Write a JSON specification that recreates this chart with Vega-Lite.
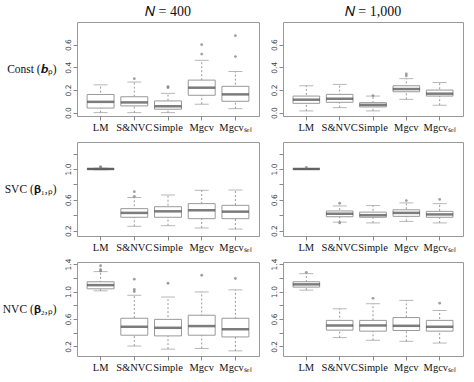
{
  "$schema": "https://vega.github.io/schema/vega-lite/v6.json",
  "background": "white",
  "padding": {"left": 1, "top": 4, "right": 5, "bottom": 5},
  "datasets": {
    "boxes": [
      {"param": "Const", "N": 400, "method": "LM", "lower": 0.0, "q1": 0.04, "median": 0.095, "q3": 0.16, "upper": 0.245},
      {"param": "Const", "N": 400, "method": "S&NVC", "lower": 0.0, "q1": 0.059, "median": 0.09, "q3": 0.14, "upper": 0.27},
      {"param": "Const", "N": 400, "method": "Simple", "lower": 0.0, "q1": 0.03, "median": 0.056, "q3": 0.103, "upper": 0.17},
      {"param": "Const", "N": 400, "method": "Mgcv", "lower": 0.074, "q1": 0.153, "median": 0.22, "q3": 0.287, "upper": 0.462},
      {"param": "Const", "N": 400, "method": "Mgcvₛₑₗ", "lower": 0.035, "q1": 0.1, "median": 0.161, "q3": 0.232, "upper": 0.363},
      {"param": "Const", "N": 1000, "method": "LM", "lower": 0.015, "q1": 0.082, "median": 0.114, "q3": 0.146, "upper": 0.237},
      {"param": "Const", "N": 1000, "method": "S&NVC", "lower": 0.044, "q1": 0.091, "median": 0.123, "q3": 0.161, "upper": 0.249},
      {"param": "Const", "N": 1000, "method": "Simple", "lower": 0.015, "q1": 0.05, "median": 0.068, "q3": 0.088, "upper": 0.146},
      {"param": "Const", "N": 1000, "method": "Mgcv", "lower": 0.117, "q1": 0.184, "median": 0.208, "q3": 0.237, "upper": 0.3},
      {"param": "Const", "N": 1000, "method": "Mgcvₛₑₗ", "lower": 0.065, "q1": 0.146, "median": 0.167, "q3": 0.199, "upper": 0.266},
      {"param": "SVC", "N": 400, "method": "LM", "lower": 0.99, "q1": 0.995, "median": 1.0, "q3": 1.005, "upper": 1.01},
      {"param": "SVC", "N": 400, "method": "S&NVC", "lower": 0.256, "q1": 0.373, "median": 0.43, "q3": 0.485, "upper": 0.63},
      {"param": "SVC", "N": 400, "method": "Simple", "lower": 0.264, "q1": 0.373, "median": 0.45, "q3": 0.51, "upper": 0.662},
      {"param": "SVC", "N": 400, "method": "Mgcv", "lower": 0.234, "q1": 0.355, "median": 0.464, "q3": 0.55, "upper": 0.723},
      {"param": "SVC", "N": 400, "method": "Mgcvₛₑₗ", "lower": 0.22, "q1": 0.355, "median": 0.446, "q3": 0.528, "upper": 0.727},
      {"param": "SVC", "N": 1000, "method": "LM", "lower": 0.995, "q1": 0.998, "median": 1.0, "q3": 1.002, "upper": 1.005},
      {"param": "SVC", "N": 1000, "method": "S&NVC", "lower": 0.31, "q1": 0.38, "median": 0.42, "q3": 0.455, "upper": 0.52},
      {"param": "SVC", "N": 1000, "method": "Simple", "lower": 0.3, "q1": 0.373, "median": 0.4, "q3": 0.44, "upper": 0.525},
      {"param": "SVC", "N": 1000, "method": "Mgcv", "lower": 0.32, "q1": 0.385, "median": 0.43, "q3": 0.47, "upper": 0.56},
      {"param": "SVC", "N": 1000, "method": "Mgcvₛₑₗ", "lower": 0.3, "q1": 0.373, "median": 0.41, "q3": 0.45, "upper": 0.55},
      {"param": "NVC", "N": 400, "method": "LM", "lower": 1.01, "q1": 1.039, "median": 1.093, "q3": 1.142, "upper": 1.29},
      {"param": "NVC", "N": 400, "method": "S&NVC", "lower": 0.205, "q1": 0.363, "median": 0.486, "q3": 0.61, "upper": 0.945},
      {"param": "NVC", "N": 400, "method": "Simple", "lower": 0.16, "q1": 0.353, "median": 0.471, "q3": 0.594, "upper": 0.92},
      {"param": "NVC", "N": 400, "method": "Mgcv", "lower": 0.17, "q1": 0.363, "median": 0.496, "q3": 0.654, "upper": 0.994},
      {"param": "NVC", "N": 400, "method": "Mgcvₛₑₗ", "lower": 0.135, "q1": 0.338, "median": 0.45, "q3": 0.61, "upper": 1.024},
      {"param": "NVC", "N": 1000, "method": "LM", "lower": 1.02, "q1": 1.064, "median": 1.104, "q3": 1.142, "upper": 1.26},
      {"param": "NVC", "N": 1000, "method": "S&NVC", "lower": 0.328, "q1": 0.437, "median": 0.505, "q3": 0.579, "upper": 0.748},
      {"param": "NVC", "N": 1000, "method": "Simple", "lower": 0.289, "q1": 0.422, "median": 0.505, "q3": 0.579, "upper": 0.822},
      {"param": "NVC", "N": 1000, "method": "Mgcv", "lower": 0.274, "q1": 0.431, "median": 0.5, "q3": 0.62, "upper": 0.871},
      {"param": "NVC", "N": 1000, "method": "Mgcvₛₑₗ", "lower": 0.249, "q1": 0.422, "median": 0.486, "q3": 0.579, "upper": 0.723}
    ],
    "outs": [
      {"param": "Const", "N": 400, "method": "S&NVC", "value": 0.3},
      {"param": "Const", "N": 400, "method": "Simple", "value": 0.22},
      {"param": "Const", "N": 400, "method": "Simple", "value": 0.23},
      {"param": "Const", "N": 400, "method": "Mgcv", "value": 0.517},
      {"param": "Const", "N": 400, "method": "Mgcv", "value": 0.6},
      {"param": "Const", "N": 400, "method": "Mgcvₛₑₗ", "value": 0.495},
      {"param": "Const", "N": 400, "method": "Mgcvₛₑₗ", "value": 0.679},
      {"param": "Const", "N": 1000, "method": "Simple", "value": 0.15},
      {"param": "Const", "N": 1000, "method": "Mgcv", "value": 0.325},
      {"param": "Const", "N": 1000, "method": "Mgcv", "value": 0.342},
      {"param": "SVC", "N": 400, "method": "LM", "value": 1.02},
      {"param": "SVC", "N": 400, "method": "LM", "value": 1.03},
      {"param": "SVC", "N": 400, "method": "S&NVC", "value": 0.645},
      {"param": "SVC", "N": 400, "method": "S&NVC", "value": 0.705},
      {"param": "SVC", "N": 1000, "method": "LM", "value": 1.02},
      {"param": "SVC", "N": 1000, "method": "S&NVC", "value": 0.555},
      {"param": "SVC", "N": 1000, "method": "S&NVC", "value": 0.3},
      {"param": "SVC", "N": 1000, "method": "Mgcv", "value": 0.59},
      {"param": "SVC", "N": 1000, "method": "Mgcvₛₑₗ", "value": 0.605},
      {"param": "NVC", "N": 400, "method": "LM", "value": 1.3},
      {"param": "NVC", "N": 400, "method": "LM", "value": 1.32},
      {"param": "NVC", "N": 400, "method": "LM", "value": 1.375},
      {"param": "NVC", "N": 400, "method": "S&NVC", "value": 1.0},
      {"param": "NVC", "N": 400, "method": "S&NVC", "value": 1.03},
      {"param": "NVC", "N": 400, "method": "S&NVC", "value": 1.18},
      {"param": "NVC", "N": 400, "method": "Simple", "value": 1.12},
      {"param": "NVC", "N": 400, "method": "Mgcv", "value": 1.237},
      {"param": "NVC", "N": 400, "method": "Mgcvₛₑₗ", "value": 1.19},
      {"param": "NVC", "N": 1000, "method": "LM", "value": 1.28},
      {"param": "NVC", "N": 1000, "method": "Simple", "value": 0.9},
      {"param": "NVC", "N": 1000, "method": "Mgcvₛₑₗ", "value": 0.83}
    ]
  },
  "columns": 2,
  "spacing": {"row": 26, "column": 24},
  "bounds": "flush",
  "resolve": {"scale": {"x": "independent", "y": "independent"}},
  "concat": [
    {
      "width": 182, "height": 94,
      "title": "𝑁 = 400",
      "layer": [
        {"data": {"name": "boxes"}, "transform": [{"filter": "datum.param=='Const' && datum.N==400"}],
         "mark": {"type": "rule", "strokeDash": [2, 2], "color": "#999"},
         "encoding": {"x": {"field": "method", "type": "nominal", "sort": ["LM", "S&NVC", "Simple", "Mgcv", "Mgcvₛₑₗ"], "scale": {"paddingInner": 0, "paddingOuter": 0.2}},
           "y": {"field": "lower", "type": "quantitative", "scale": {"domain": [-0.03, 0.8], "nice": false, "zero": false}, "axis": {"values": [0, 0.2, 0.4, 0.6], "format": ".1f", "labelOverlap": false, "title": "Const (𝒃ₚ)"}},
           "y2": {"field": "upper"}}},
        {"data": {"name": "boxes"}, "transform": [{"filter": "datum.param=='Const' && datum.N==400"}, {"fold": ["lower", "upper"]}],
         "mark": {"type": "tick", "size": 14, "thickness": 1, "color": "#999"},
         "encoding": {"x": {"field": "method", "type": "nominal", "sort": ["LM", "S&NVC", "Simple", "Mgcv", "Mgcvₛₑₗ"]}, "y": {"field": "value", "type": "quantitative", "axis": {"values": [0, 0.2, 0.4, 0.6], "format": ".1f", "labelOverlap": false, "title": "Const (𝒃ₚ)"}}}},
        {"data": {"name": "boxes"}, "transform": [{"filter": "datum.param=='Const' && datum.N==400"}],
         "mark": {"type": "bar", "fill": "white", "stroke": "#999", "strokeWidth": 1, "width": {"band": 0.8}},
         "encoding": {"x": {"field": "method", "type": "nominal", "sort": ["LM", "S&NVC", "Simple", "Mgcv", "Mgcvₛₑₗ"]}, "y": {"field": "q1", "type": "quantitative", "axis": {"values": [0, 0.2, 0.4, 0.6], "format": ".1f", "labelOverlap": false, "title": "Const (𝒃ₚ)"}}, "y2": {"field": "q3"}}},
        {"data": {"name": "boxes"}, "transform": [{"filter": "datum.param=='Const' && datum.N==400"}],
         "mark": {"type": "tick", "size": 27, "thickness": 2.5, "color": "#444"},
         "encoding": {"x": {"field": "method", "type": "nominal", "sort": ["LM", "S&NVC", "Simple", "Mgcv", "Mgcvₛₑₗ"]}, "y": {"field": "median", "type": "quantitative", "axis": {"values": [0, 0.2, 0.4, 0.6], "format": ".1f", "labelOverlap": false, "title": "Const (𝒃ₚ)"}}}},
        {"data": {"name": "outs"}, "transform": [{"filter": "datum.param=='Const' && datum.N==400"}],
         "mark": {"type": "point", "filled": true, "size": 8, "color": "#777"},
         "encoding": {"x": {"field": "method", "type": "nominal", "sort": ["LM", "S&NVC", "Simple", "Mgcv", "Mgcvₛₑₗ"]}, "y": {"field": "value", "type": "quantitative", "axis": {"values": [0, 0.2, 0.4, 0.6], "format": ".1f", "labelOverlap": false, "title": "Const (𝒃ₚ)"}}}}
      ]
    },
    {
      "width": 180, "height": 94,
      "title": "𝑁 = 1,000",
      "layer": [
        {"data": {"name": "boxes"}, "transform": [{"filter": "datum.param=='Const' && datum.N==1000"}],
         "mark": {"type": "rule", "strokeDash": [2, 2], "color": "#999"},
         "encoding": {"x": {"field": "method", "type": "nominal", "sort": ["LM", "S&NVC", "Simple", "Mgcv", "Mgcvₛₑₗ"], "scale": {"paddingInner": 0, "paddingOuter": 0.2}},
           "y": {"field": "lower", "type": "quantitative", "scale": {"domain": [-0.03, 0.8], "nice": false, "zero": false}, "axis": {"values": [0, 0.2, 0.4, 0.6], "format": ".1f", "labelOverlap": false, "title": null}},
           "y2": {"field": "upper"}}},
        {"data": {"name": "boxes"}, "transform": [{"filter": "datum.param=='Const' && datum.N==1000"}, {"fold": ["lower", "upper"]}],
         "mark": {"type": "tick", "size": 14, "thickness": 1, "color": "#999"},
         "encoding": {"x": {"field": "method", "type": "nominal", "sort": ["LM", "S&NVC", "Simple", "Mgcv", "Mgcvₛₑₗ"]}, "y": {"field": "value", "type": "quantitative", "axis": {"values": [0, 0.2, 0.4, 0.6], "format": ".1f", "labelOverlap": false, "title": null}}}},
        {"data": {"name": "boxes"}, "transform": [{"filter": "datum.param=='Const' && datum.N==1000"}],
         "mark": {"type": "bar", "fill": "white", "stroke": "#999", "strokeWidth": 1, "width": {"band": 0.8}},
         "encoding": {"x": {"field": "method", "type": "nominal", "sort": ["LM", "S&NVC", "Simple", "Mgcv", "Mgcvₛₑₗ"]}, "y": {"field": "q1", "type": "quantitative", "axis": {"values": [0, 0.2, 0.4, 0.6], "format": ".1f", "labelOverlap": false, "title": null}}, "y2": {"field": "q3"}}},
        {"data": {"name": "boxes"}, "transform": [{"filter": "datum.param=='Const' && datum.N==1000"}],
         "mark": {"type": "tick", "size": 27, "thickness": 2.5, "color": "#444"},
         "encoding": {"x": {"field": "method", "type": "nominal", "sort": ["LM", "S&NVC", "Simple", "Mgcv", "Mgcvₛₑₗ"]}, "y": {"field": "median", "type": "quantitative", "axis": {"values": [0, 0.2, 0.4, 0.6], "format": ".1f", "labelOverlap": false, "title": null}}}},
        {"data": {"name": "outs"}, "transform": [{"filter": "datum.param=='Const' && datum.N==1000"}],
         "mark": {"type": "point", "filled": true, "size": 8, "color": "#777"},
         "encoding": {"x": {"field": "method", "type": "nominal", "sort": ["LM", "S&NVC", "Simple", "Mgcv", "Mgcvₛₑₗ"]}, "y": {"field": "value", "type": "quantitative", "axis": {"values": [0, 0.2, 0.4, 0.6], "format": ".1f", "labelOverlap": false, "title": null}}}}
      ]
    },
    {
      "width": 182, "height": 94,
      "layer": [
        {"data": {"name": "boxes"}, "transform": [{"filter": "datum.param=='SVC' && datum.N==400"}],
         "mark": {"type": "rule", "strokeDash": [2, 2], "color": "#999"},
         "encoding": {"x": {"field": "method", "type": "nominal", "sort": ["LM", "S&NVC", "Simple", "Mgcv", "Mgcvₛₑₗ"], "scale": {"paddingInner": 0, "paddingOuter": 0.2}},
           "y": {"field": "lower", "type": "quantitative", "scale": {"domain": [0.13, 1.35], "nice": false, "zero": false}, "axis": {"values": [0.2, 0.4, 0.6, 0.8, 1.0, 1.2], "format": ".1f", "labelOverlap": false, "labelExpr": "indexof(['0.2','0.6','1.0'], datum.label) >= 0 ? datum.label : ''", "title": "SVC (𝛃₁,ₚ)"}},
           "y2": {"field": "upper"}}},
        {"data": {"name": "boxes"}, "transform": [{"filter": "datum.param=='SVC' && datum.N==400"}, {"fold": ["lower", "upper"]}],
         "mark": {"type": "tick", "size": 14, "thickness": 1, "color": "#999"},
         "encoding": {"x": {"field": "method", "type": "nominal", "sort": ["LM", "S&NVC", "Simple", "Mgcv", "Mgcvₛₑₗ"]}, "y": {"field": "value", "type": "quantitative", "axis": {"values": [0.2, 0.4, 0.6, 0.8, 1.0, 1.2], "format": ".1f", "labelOverlap": false, "labelExpr": "indexof(['0.2','0.6','1.0'], datum.label) >= 0 ? datum.label : ''", "title": "SVC (𝛃₁,ₚ)"}}}},
        {"data": {"name": "boxes"}, "transform": [{"filter": "datum.param=='SVC' && datum.N==400"}],
         "mark": {"type": "bar", "fill": "white", "stroke": "#999", "strokeWidth": 1, "width": {"band": 0.8}},
         "encoding": {"x": {"field": "method", "type": "nominal", "sort": ["LM", "S&NVC", "Simple", "Mgcv", "Mgcvₛₑₗ"]}, "y": {"field": "q1", "type": "quantitative", "axis": {"values": [0.2, 0.4, 0.6, 0.8, 1.0, 1.2], "format": ".1f", "labelOverlap": false, "labelExpr": "indexof(['0.2','0.6','1.0'], datum.label) >= 0 ? datum.label : ''", "title": "SVC (𝛃₁,ₚ)"}}, "y2": {"field": "q3"}}},
        {"data": {"name": "boxes"}, "transform": [{"filter": "datum.param=='SVC' && datum.N==400"}],
         "mark": {"type": "tick", "size": 27, "thickness": 2.5, "color": "#444"},
         "encoding": {"x": {"field": "method", "type": "nominal", "sort": ["LM", "S&NVC", "Simple", "Mgcv", "Mgcvₛₑₗ"]}, "y": {"field": "median", "type": "quantitative", "axis": {"values": [0.2, 0.4, 0.6, 0.8, 1.0, 1.2], "format": ".1f", "labelOverlap": false, "labelExpr": "indexof(['0.2','0.6','1.0'], datum.label) >= 0 ? datum.label : ''", "title": "SVC (𝛃₁,ₚ)"}}}},
        {"data": {"name": "outs"}, "transform": [{"filter": "datum.param=='SVC' && datum.N==400"}],
         "mark": {"type": "point", "filled": true, "size": 8, "color": "#777"},
         "encoding": {"x": {"field": "method", "type": "nominal", "sort": ["LM", "S&NVC", "Simple", "Mgcv", "Mgcvₛₑₗ"]}, "y": {"field": "value", "type": "quantitative", "axis": {"values": [0.2, 0.4, 0.6, 0.8, 1.0, 1.2], "format": ".1f", "labelOverlap": false, "labelExpr": "indexof(['0.2','0.6','1.0'], datum.label) >= 0 ? datum.label : ''", "title": "SVC (𝛃₁,ₚ)"}}}}
      ]
    },
    {
      "width": 180, "height": 94,
      "layer": [
        {"data": {"name": "boxes"}, "transform": [{"filter": "datum.param=='SVC' && datum.N==1000"}],
         "mark": {"type": "rule", "strokeDash": [2, 2], "color": "#999"},
         "encoding": {"x": {"field": "method", "type": "nominal", "sort": ["LM", "S&NVC", "Simple", "Mgcv", "Mgcvₛₑₗ"], "scale": {"paddingInner": 0, "paddingOuter": 0.2}},
           "y": {"field": "lower", "type": "quantitative", "scale": {"domain": [0.13, 1.35], "nice": false, "zero": false}, "axis": {"values": [0.2, 0.4, 0.6, 0.8, 1.0, 1.2], "format": ".1f", "labelOverlap": false, "labelExpr": "indexof(['0.2','0.6','1.0'], datum.label) >= 0 ? datum.label : ''", "title": null}},
           "y2": {"field": "upper"}}},
        {"data": {"name": "boxes"}, "transform": [{"filter": "datum.param=='SVC' && datum.N==1000"}, {"fold": ["lower", "upper"]}],
         "mark": {"type": "tick", "size": 14, "thickness": 1, "color": "#999"},
         "encoding": {"x": {"field": "method", "type": "nominal", "sort": ["LM", "S&NVC", "Simple", "Mgcv", "Mgcvₛₑₗ"]}, "y": {"field": "value", "type": "quantitative", "axis": {"values": [0.2, 0.4, 0.6, 0.8, 1.0, 1.2], "format": ".1f", "labelOverlap": false, "labelExpr": "indexof(['0.2','0.6','1.0'], datum.label) >= 0 ? datum.label : ''", "title": null}}}},
        {"data": {"name": "boxes"}, "transform": [{"filter": "datum.param=='SVC' && datum.N==1000"}],
         "mark": {"type": "bar", "fill": "white", "stroke": "#999", "strokeWidth": 1, "width": {"band": 0.8}},
         "encoding": {"x": {"field": "method", "type": "nominal", "sort": ["LM", "S&NVC", "Simple", "Mgcv", "Mgcvₛₑₗ"]}, "y": {"field": "q1", "type": "quantitative", "axis": {"values": [0.2, 0.4, 0.6, 0.8, 1.0, 1.2], "format": ".1f", "labelOverlap": false, "labelExpr": "indexof(['0.2','0.6','1.0'], datum.label) >= 0 ? datum.label : ''", "title": null}}, "y2": {"field": "q3"}}},
        {"data": {"name": "boxes"}, "transform": [{"filter": "datum.param=='SVC' && datum.N==1000"}],
         "mark": {"type": "tick", "size": 27, "thickness": 2.5, "color": "#444"},
         "encoding": {"x": {"field": "method", "type": "nominal", "sort": ["LM", "S&NVC", "Simple", "Mgcv", "Mgcvₛₑₗ"]}, "y": {"field": "median", "type": "quantitative", "axis": {"values": [0.2, 0.4, 0.6, 0.8, 1.0, 1.2], "format": ".1f", "labelOverlap": false, "labelExpr": "indexof(['0.2','0.6','1.0'], datum.label) >= 0 ? datum.label : ''", "title": null}}}},
        {"data": {"name": "outs"}, "transform": [{"filter": "datum.param=='SVC' && datum.N==1000"}],
         "mark": {"type": "point", "filled": true, "size": 8, "color": "#777"},
         "encoding": {"x": {"field": "method", "type": "nominal", "sort": ["LM", "S&NVC", "Simple", "Mgcv", "Mgcvₛₑₗ"]}, "y": {"field": "value", "type": "quantitative", "axis": {"values": [0.2, 0.4, 0.6, 0.8, 1.0, 1.2], "format": ".1f", "labelOverlap": false, "labelExpr": "indexof(['0.2','0.6','1.0'], datum.label) >= 0 ? datum.label : ''", "title": null}}}}
      ]
    },
    {
      "width": 182, "height": 94,
      "layer": [
        {"data": {"name": "boxes"}, "transform": [{"filter": "datum.param=='NVC' && datum.N==400"}],
         "mark": {"type": "rule", "strokeDash": [2, 2], "color": "#999"},
         "encoding": {"x": {"field": "method", "type": "nominal", "sort": ["LM", "S&NVC", "Simple", "Mgcv", "Mgcvₛₑₗ"], "scale": {"paddingInner": 0, "paddingOuter": 0.2}},
           "y": {"field": "lower", "type": "quantitative", "scale": {"domain": [0.06, 1.43], "nice": false, "zero": false}, "axis": {"values": [0.2, 0.4, 0.6, 0.8, 1.0, 1.2, 1.4], "format": ".1f", "labelOverlap": false, "labelExpr": "indexof(['0.2','0.6','1.0','1.4'], datum.label) >= 0 ? datum.label : ''", "title": "NVC (𝛃₂,ₚ)"}},
           "y2": {"field": "upper"}}},
        {"data": {"name": "boxes"}, "transform": [{"filter": "datum.param=='NVC' && datum.N==400"}, {"fold": ["lower", "upper"]}],
         "mark": {"type": "tick", "size": 14, "thickness": 1, "color": "#999"},
         "encoding": {"x": {"field": "method", "type": "nominal", "sort": ["LM", "S&NVC", "Simple", "Mgcv", "Mgcvₛₑₗ"]}, "y": {"field": "value", "type": "quantitative", "axis": {"values": [0.2, 0.4, 0.6, 0.8, 1.0, 1.2, 1.4], "format": ".1f", "labelOverlap": false, "labelExpr": "indexof(['0.2','0.6','1.0','1.4'], datum.label) >= 0 ? datum.label : ''", "title": "NVC (𝛃₂,ₚ)"}}}},
        {"data": {"name": "boxes"}, "transform": [{"filter": "datum.param=='NVC' && datum.N==400"}],
         "mark": {"type": "bar", "fill": "white", "stroke": "#999", "strokeWidth": 1, "width": {"band": 0.8}},
         "encoding": {"x": {"field": "method", "type": "nominal", "sort": ["LM", "S&NVC", "Simple", "Mgcv", "Mgcvₛₑₗ"]}, "y": {"field": "q1", "type": "quantitative", "axis": {"values": [0.2, 0.4, 0.6, 0.8, 1.0, 1.2, 1.4], "format": ".1f", "labelOverlap": false, "labelExpr": "indexof(['0.2','0.6','1.0','1.4'], datum.label) >= 0 ? datum.label : ''", "title": "NVC (𝛃₂,ₚ)"}}, "y2": {"field": "q3"}}},
        {"data": {"name": "boxes"}, "transform": [{"filter": "datum.param=='NVC' && datum.N==400"}],
         "mark": {"type": "tick", "size": 27, "thickness": 2.5, "color": "#444"},
         "encoding": {"x": {"field": "method", "type": "nominal", "sort": ["LM", "S&NVC", "Simple", "Mgcv", "Mgcvₛₑₗ"]}, "y": {"field": "median", "type": "quantitative", "axis": {"values": [0.2, 0.4, 0.6, 0.8, 1.0, 1.2, 1.4], "format": ".1f", "labelOverlap": false, "labelExpr": "indexof(['0.2','0.6','1.0','1.4'], datum.label) >= 0 ? datum.label : ''", "title": "NVC (𝛃₂,ₚ)"}}}},
        {"data": {"name": "outs"}, "transform": [{"filter": "datum.param=='NVC' && datum.N==400"}],
         "mark": {"type": "point", "filled": true, "size": 8, "color": "#777"},
         "encoding": {"x": {"field": "method", "type": "nominal", "sort": ["LM", "S&NVC", "Simple", "Mgcv", "Mgcvₛₑₗ"]}, "y": {"field": "value", "type": "quantitative", "axis": {"values": [0.2, 0.4, 0.6, 0.8, 1.0, 1.2, 1.4], "format": ".1f", "labelOverlap": false, "labelExpr": "indexof(['0.2','0.6','1.0','1.4'], datum.label) >= 0 ? datum.label : ''", "title": "NVC (𝛃₂,ₚ)"}}}}
      ]
    },
    {
      "width": 180, "height": 94,
      "layer": [
        {"data": {"name": "boxes"}, "transform": [{"filter": "datum.param=='NVC' && datum.N==1000"}],
         "mark": {"type": "rule", "strokeDash": [2, 2], "color": "#999"},
         "encoding": {"x": {"field": "method", "type": "nominal", "sort": ["LM", "S&NVC", "Simple", "Mgcv", "Mgcvₛₑₗ"], "scale": {"paddingInner": 0, "paddingOuter": 0.2}},
           "y": {"field": "lower", "type": "quantitative", "scale": {"domain": [0.06, 1.43], "nice": false, "zero": false}, "axis": {"values": [0.2, 0.4, 0.6, 0.8, 1.0, 1.2, 1.4], "format": ".1f", "labelOverlap": false, "labelExpr": "indexof(['0.2','0.6','1.0','1.4'], datum.label) >= 0 ? datum.label : ''", "title": null}},
           "y2": {"field": "upper"}}},
        {"data": {"name": "boxes"}, "transform": [{"filter": "datum.param=='NVC' && datum.N==1000"}, {"fold": ["lower", "upper"]}],
         "mark": {"type": "tick", "size": 14, "thickness": 1, "color": "#999"},
         "encoding": {"x": {"field": "method", "type": "nominal", "sort": ["LM", "S&NVC", "Simple", "Mgcv", "Mgcvₛₑₗ"]}, "y": {"field": "value", "type": "quantitative", "axis": {"values": [0.2, 0.4, 0.6, 0.8, 1.0, 1.2, 1.4], "format": ".1f", "labelOverlap": false, "labelExpr": "indexof(['0.2','0.6','1.0','1.4'], datum.label) >= 0 ? datum.label : ''", "title": null}}}},
        {"data": {"name": "boxes"}, "transform": [{"filter": "datum.param=='NVC' && datum.N==1000"}],
         "mark": {"type": "bar", "fill": "white", "stroke": "#999", "strokeWidth": 1, "width": {"band": 0.8}},
         "encoding": {"x": {"field": "method", "type": "nominal", "sort": ["LM", "S&NVC", "Simple", "Mgcv", "Mgcvₛₑₗ"]}, "y": {"field": "q1", "type": "quantitative", "axis": {"values": [0.2, 0.4, 0.6, 0.8, 1.0, 1.2, 1.4], "format": ".1f", "labelOverlap": false, "labelExpr": "indexof(['0.2','0.6','1.0','1.4'], datum.label) >= 0 ? datum.label : ''", "title": null}}, "y2": {"field": "q3"}}},
        {"data": {"name": "boxes"}, "transform": [{"filter": "datum.param=='NVC' && datum.N==1000"}],
         "mark": {"type": "tick", "size": 27, "thickness": 2.5, "color": "#444"},
         "encoding": {"x": {"field": "method", "type": "nominal", "sort": ["LM", "S&NVC", "Simple", "Mgcv", "Mgcvₛₑₗ"]}, "y": {"field": "median", "type": "quantitative", "axis": {"values": [0.2, 0.4, 0.6, 0.8, 1.0, 1.2, 1.4], "format": ".1f", "labelOverlap": false, "labelExpr": "indexof(['0.2','0.6','1.0','1.4'], datum.label) >= 0 ? datum.label : ''", "title": null}}}},
        {"data": {"name": "outs"}, "transform": [{"filter": "datum.param=='NVC' && datum.N==1000"}],
         "mark": {"type": "point", "filled": true, "size": 8, "color": "#777"},
         "encoding": {"x": {"field": "method", "type": "nominal", "sort": ["LM", "S&NVC", "Simple", "Mgcv", "Mgcvₛₑₗ"]}, "y": {"field": "value", "type": "quantitative", "axis": {"values": [0.2, 0.4, 0.6, 0.8, 1.0, 1.2, 1.4], "format": ".1f", "labelOverlap": false, "labelExpr": "indexof(['0.2','0.6','1.0','1.4'], datum.label) >= 0 ? datum.label : ''", "title": null}}}}
      ]
    }
  ],
  "config": {
    "view": {"stroke": "#999", "strokeWidth": 1},
    "axis": {"grid": false, "domain": false, "tickColor": "#888", "labelOverlap": false},
    "axisX": {"title": null, "labelAngle": 0, "labelFont": "Liberation Serif", "labelFontSize": 10.5, "labelColor": "#111", "tickSize": 4, "labelPadding": 2, "labelBound": false},
    "axisY": {"labelAngle": -90, "labelFont": "DejaVu Sans", "labelFontSize": 7.5, "labelColor": "#444", "tickSize": 4, "labelPadding": 1, "labelOverlap": false, "minExtent": 18, "maxExtent": 18, "titleAngle": 0, "titleFont": "Liberation Serif", "titleFontSize": 11.5, "titleFontWeight": "normal", "titleColor": "#111", "titlePadding": 3, "titleAlign": "right", "titleBaseline": "middle"},
    "title": {"font": "Liberation Serif", "fontSize": 14, "fontWeight": "normal", "offset": 3, "color": "#111"}
  }
}
